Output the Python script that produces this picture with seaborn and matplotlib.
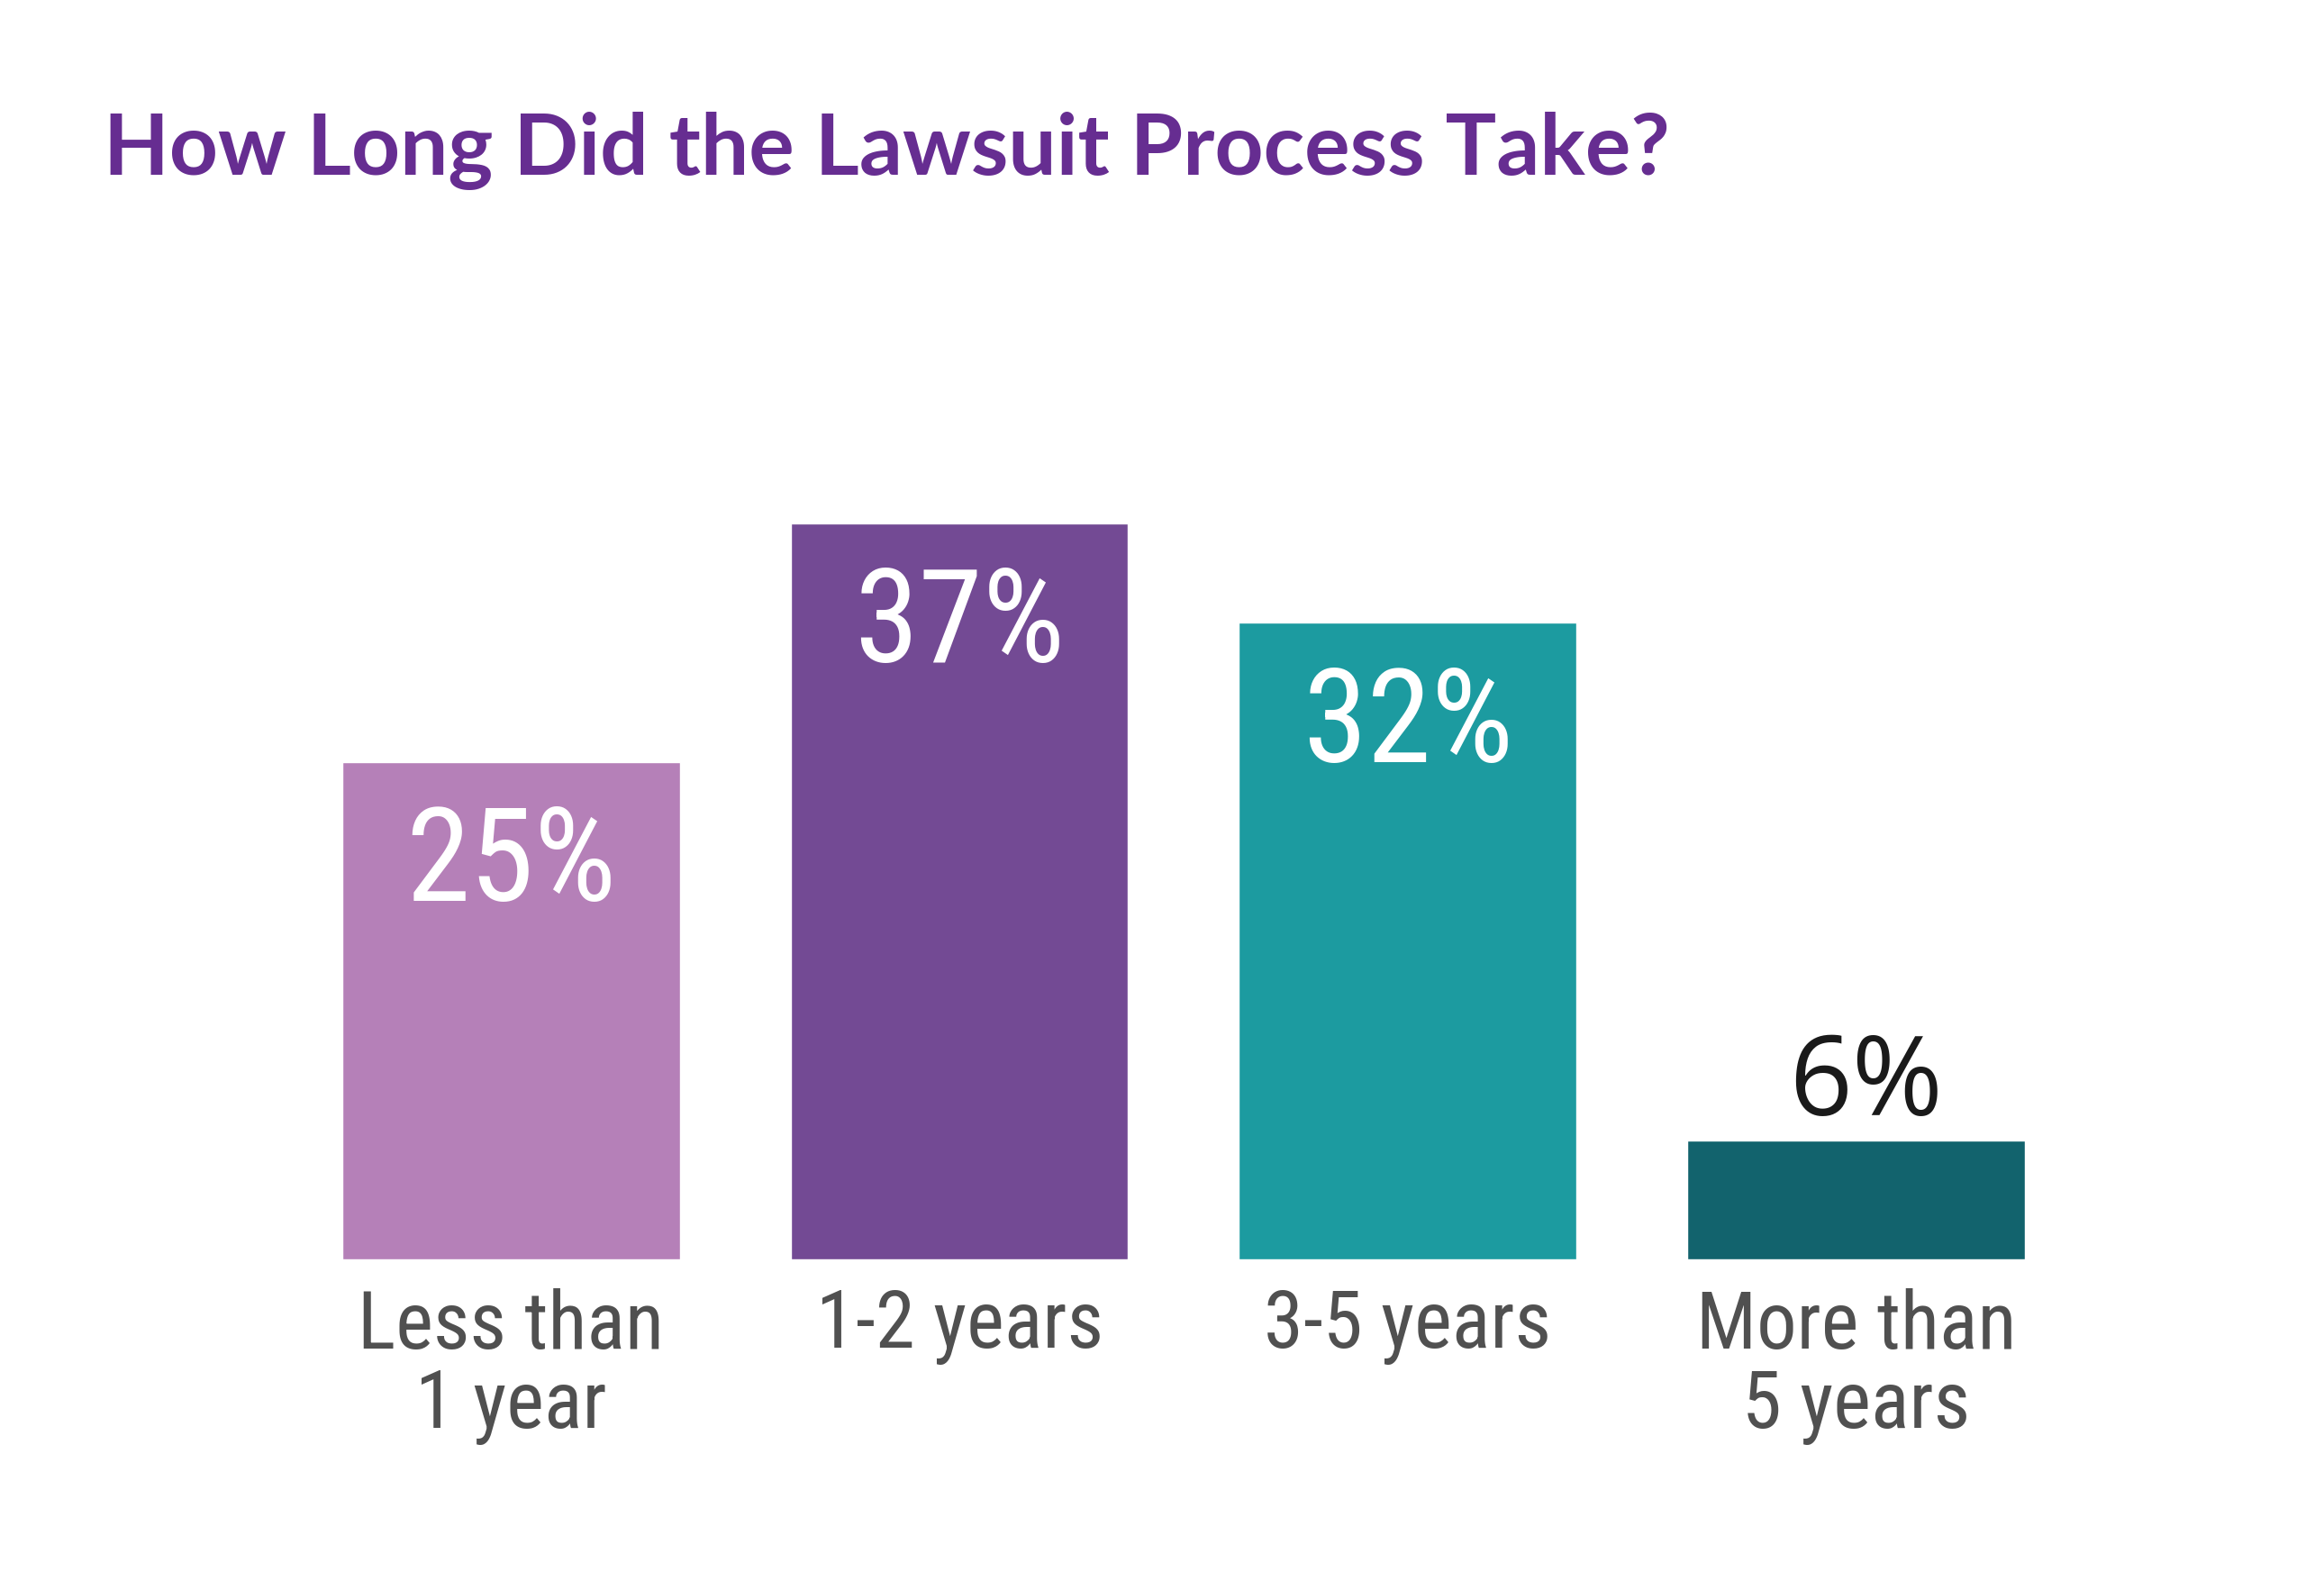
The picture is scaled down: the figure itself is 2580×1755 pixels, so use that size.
# ==============================
# How Long Did the Lawsuit Process Take? - bar chart
# ==============================
import seaborn as sns
import matplotlib.pyplot as plt
import pandas as pd


# ==============================
# Data
# ==============================
categories = ['Less than\n1 year', '1-2 years', '3-5 years', 'More than\n5 years']
percentages = [25, 37, 32, 6]
value_labels = ['25%', '37%', '32%', '6%']
bar_colors = ['#b580b8', '#734a94', '#1c9ba0', '#12636d']
title = 'How Long Did the Lawsuit Process Take?'

df = pd.DataFrame({'duration': categories, 'share': percentages})


# ==============================
# Style
# ==============================
sns.set_style('white')
plt.rcParams['font.family'] = ['Roboto Condensed', 'Roboto', 'DejaVu Sans']


# ==============================
# Plot
# ==============================
fig = plt.figure(figsize=(25.8, 17.56), dpi=100)
ax = fig.add_axes([0.1233, 0.2033, 0.772, 0.503])

sns.barplot(
    data=df,
    x='duration',
    y='share',
    hue='duration',
    palette=dict(zip(categories, bar_colors)),
    legend=False,
    width=0.753,
    saturation=1,
    ax=ax
)

ax.set_xlim(-0.5, 3.5)
ax.set_ylim(0, 40)
ax.set_xlabel('')
ax.set_ylabel('')
ax.set_yticks([])
sns.despine(ax=ax, left=True, bottom=True)

ax.tick_params(axis='x', length=0, pad=22, labelsize=64, labelcolor='#505050')
for lbl in ax.get_xticklabels():
    lbl.set_linespacing(1.05)

# value labels
for i, v in enumerate(percentages):
    if v > 10:
        ax.annotate(value_labels[i], xy=(i, v), xytext=(0, -32),
                    textcoords='offset points', ha='center', va='top',
                    fontsize=104, color='white')
    else:
        ax.annotate(value_labels[i], xy=(i, v), xytext=(8, 0),
                    textcoords='offset points', ha='center', va='bottom',
                    fontsize=88, color='#1a1a1a',
                    family=['Open Sans', 'DejaVu Sans'])

fig.text(0.0446, 0.8895, title, fontsize=68, color='#662d91',
         fontweight='bold', family=['Lato', 'DejaVu Sans'],
         ha='left', va='baseline')

fig.savefig('out.png', dpi=100, facecolor='white')
